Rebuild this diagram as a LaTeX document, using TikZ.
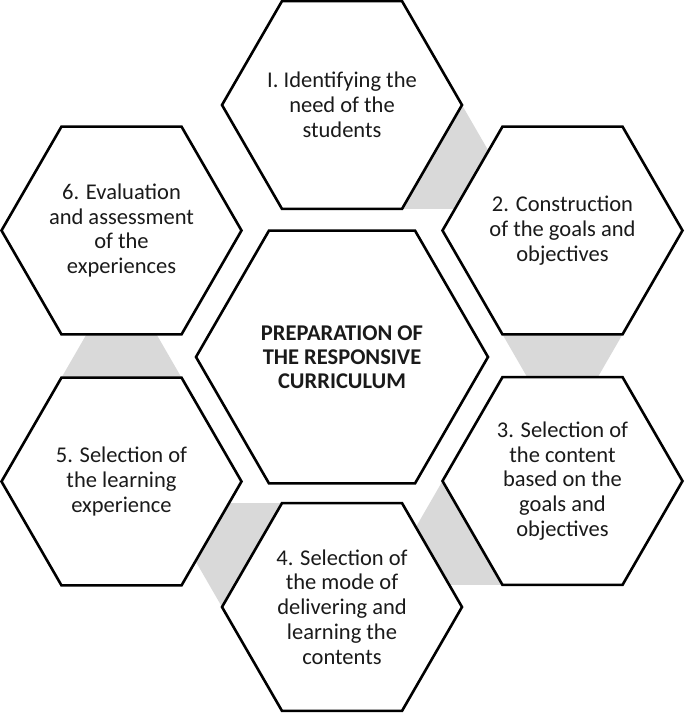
\documentclass[tikz,border=0pt]{standalone}
\usepackage{fontspec}
\setmainfont{Carlito}
\usetikzlibrary{calc}
\definecolor{conncol}{HTML}{D9D9D9}
\definecolor{txtcol}{HTML}{1A1A1A}
\begin{document}
\begin{tikzpicture}[x=1pt,y=-1pt,
  hexline/.style={draw=black,line width=2.6pt,fill=white,line join=miter},
  txt/.style={align=center,inner sep=0pt,text=txtcol,font=\fontsize{22.5}{24.8}\selectfont},
  ctxt/.style={align=center,inner sep=0pt,text=txtcol,font=\fontsize{22.5}{24.2}\selectfont\bfseries},
  linkfill/.style={fill=conncol}]
\useasboundingbox (0,0) rectangle (685,713);
\coordinate (c0) at (342,357);
\coordinate (c1) at (342,105);
\coordinate (c2) at (562.5,230.5);
\coordinate (c3) at (562.5,481);
\coordinate (c4) at (342,607);
\coordinate (c5) at (121.5,481.5);
\coordinate (c6) at (121.5,230.5);
% connectors (trapezoids, wide at source, narrowing to target)
\foreach \s/\t/\a [evaluate=\a as \al using \a-30, evaluate=\a as \ar using \a+30] in
  {c1/c2/30, c2/c3/90, c3/c4/150, c4/c5/210, c5/c6/270}
  \fill[linkfill] ($(\s)+(\al:120)$) -- ($(\s)+(\al:120)+(\ar:58)$)
     -- ($(\s)+(\ar:120)+(\al:58)$) -- ($(\s)+(\ar:120)$) -- cycle;
% hexagons
\foreach \c/\r in {c0/146,c1/120,c2/120,c3/120,c4/120,c5/120,c6/120}
  \draw[hexline] ($(\c)+(0:\r)$) -- ($(\c)+(60:\r)$) -- ($(\c)+(120:\r)$)
     -- ($(\c)+(180:\r)$) -- ($(\c)+(240:\r)$) -- ($(\c)+(300:\r)$) -- cycle;
% texts
\node[ctxt] (n0) at (c0) {PREPARATION OF\\THE RESPONSIVE\\CURRICULUM};
\node[txt] (n1) at (c1) {I. Identifying the\\need of the\\students};
\node[txt] (n2) at (c2) {2. Construction\\of the goals and\\objectives};
\node[txt] (n3) at (c3) {3. Selection of\\the content\\based on the\\goals and\\objectives};
\node[txt] (n4) at (c4) {4. Selection of\\the mode of\\delivering and\\learning the\\contents};
\node[txt] (n5) at (c5) {5. Selection of\\the learning\\experience};
\node[txt] (n6) at (c6) {6. Evaluation\\and assessment\\of the\\experiences};
\end{tikzpicture}
\end{document}
